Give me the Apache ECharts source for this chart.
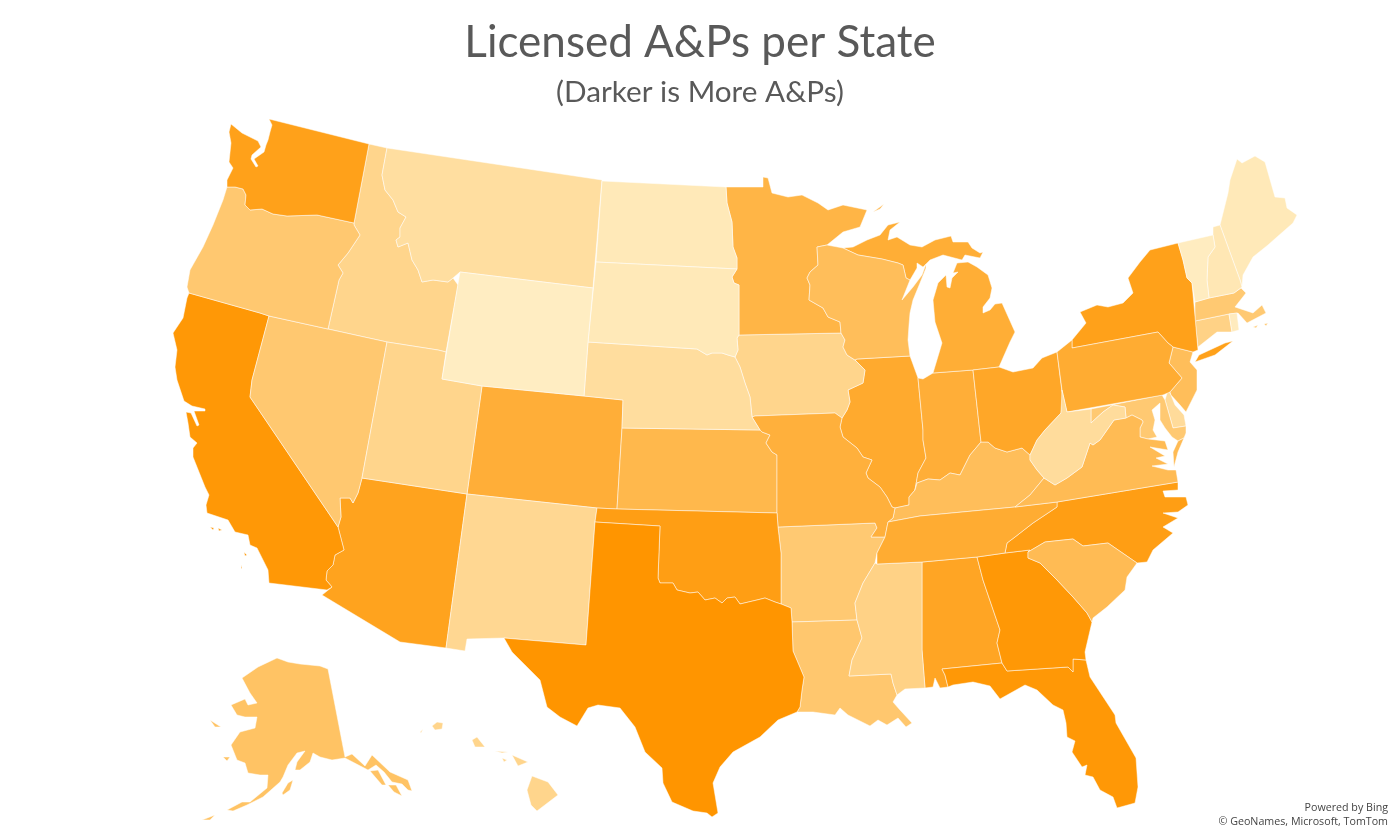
<!DOCTYPE html>
<html lang="en">
<head>
	<title>Licensed A&amp;Ps per State</title>
	<meta charset="utf-8">
	<style>
		html, body { margin: 0; padding: 0; background: #fff; }
		#container { width: 1400px; height: 840px; }
	</style>
</head>
<body>
	<div id="container"></div>
	<script src="https://cdn.jsdelivr.net/npm/echarts@6/dist/echarts.min.js"></script>
	<script>
		// values read from the shade of each state (estimates)
		const states = ['Alabama','Alaska','Arizona','Arkansas','California','Colorado','Connecticut','Delaware','Florida','Georgia','Hawaii','Idaho','Illinois','Indiana','Iowa','Kansas','Kentucky','Louisiana','Maine','Maryland','Massachusetts','Michigan','Minnesota','Mississippi','Missouri','Montana','Nebraska','Nevada','New Hampshire','New Jersey','New Mexico','New York','North Carolina','North Dakota','Ohio','Oklahoma','Oregon','Pennsylvania','Rhode Island','South Carolina','South Dakota','Tennessee','Texas','Utah','Vermont','Virginia','Washington','West Virginia','Wisconsin','Wyoming'];
		const licensed = [820,500,850,430,970,720,330,230,970,970,300,300,770,720,300,620,550,450,80,430,430,730,650,330,700,200,210,440,100,550,270,870,900,80,800,900,440,750,50,580,80,750,1000,300,40,580,870,220,550,30];

		// state outlines in map units, "x,y x,y ..." one string per ring
		const outlines = {
			'Washington': ['269,119 369,144 354,223 317,215 287,216 273,214 262,209 250,210 245,205 246,195 243,189 235,187 227,187 227,180 233,168 229,162 231,143 229,132 231,124 242,133 258,141 261,147 252,155 251,159 256,167 258,166 254,159 264,152 266,145 268,140 270,132 272,125'],
			'Oregon': ['227,187 235,187 243,189 246,195 245,205 250,210 262,209 273,214 287,216 317,215 354,223 354,225 360,235 348,253 338,265 343,273 339,280 328,329 269,316 260,313 189,293 187,287 190,270 203,247 213,225 223,200'],
			'California': ['189,293 260,313 269,316 252,380 250,397 338,527 344,550 335,555 333,565 327,571 326,580 332,587 327,590 269,583 268,570 257,548 250,545 248,535 235,532 228,520 207,513 206,505 209,495 205,487 193,457 193,448 197,443 190,437 188,423 186,412 191,413 197,426 199,425 194,411 205,411 205,409 192,406 184,401 177,380 175,367 177,350 173,333 183,318 187,298', '210,527 214,528 213,530', '218,528 222,530 219,531', '244,552 247,555 245,556', '241,565 242,568 241,569'],
			'Idaho': ['369,144 387,148 382,175 385,190 393,200 398,212 406,217 400,228 400,237 396,240 398,247 408,243 412,260 418,270 422,282 433,280 448,282 453,278 458,285 446,352 438,350 387,342 328,329 339,280 343,273 338,265 348,253 360,235 354,225 354,223'],
			'Montana': ['387,148 602,180 593,288 460,272 453,278 448,282 433,280 422,282 418,270 412,260 408,243 398,247 396,240 400,237 400,228 406,217 398,212 393,200 385,190 382,175'],
			'Wyoming': ['460,272 593,288 588,342 584,396 482,386 442,379'],
			'Nevada': ['269,316 328,329 387,342 362,478 358,493 353,503 350,498 340,498 341,517 338,527 250,397 252,380'],
			'Utah': ['387,342 438,350 446,352 442,379 482,386 467,494 362,478'],
			'Colorado': ['482,386 584,396 623,400 622,428 617,509 597,508 467,494'],
			'New Mexico': ['467,494 597,508 595,522 586,645 504,638 467,639 465,651 446,648'],
			'Arizona': ['362,478 467,494 446,648 400,642 322,595 332,587 326,580 327,571 333,565 335,555 344,550 338,527 341,517 340,498 350,498 353,503 358,493'],
			'North Dakota': ['602,181 726,187 727,203 732,222 733,247 737,258 737,269 596,262'],
			'South Dakota': ['596,262 737,269 732,277 734,283 739,285 739,335 737,338 738,350 735,357 728,355 722,353 712,353 707,355 697,349 588,342'],
			'Nebraska': ['588,342 697,349 707,355 712,353 722,353 728,355 735,357 740,367 745,383 750,397 752,417 760,430 622,428 623,400 584,396'],
			'Kansas': ['622,428 760,430 762,432 770,435 766,443 772,452 777,455 777,513 617,509'],
			'Oklahoma': ['597,508 617,509 777,513 778,527 781,553 781,604 775,602 765,598 757,600 740,604 735,597 727,598 722,603 715,598 705,600 698,592 690,593 677,590 673,583 660,583 658,578 660,526 595,522'],
			'Texas': ['595,522 660,526 658,578 660,583 673,583 677,590 690,593 698,592 705,600 715,598 722,603 727,598 735,597 740,604 757,600 765,598 775,602 781,604 791,608 792,622 793,651 804,677 802,690 800,707 797,712 778,720 760,737 733,752 720,767 713,783 718,813 712,817 707,813 693,811 672,802 663,783 662,768 645,752 635,727 620,708 598,705 588,708 577,726 560,717 547,707 540,680 525,665 512,652 504,638 586,645'],
			'Minnesota': ['726,187 763,187 763,177 768,178 772,193 788,197 802,195 818,203 828,210 843,205 867,210 860,227 843,232 827,245 817,247 818,265 810,272 807,278 810,285 809,300 823,308 828,317 840,322 841,333 739,335 739,285 734,283 732,277 737,269 737,258 733,247 732,222 727,203', '873,212 884,204 880,209'],
			'Iowa': ['739,335 841,333 845,340 843,347 847,355 855,360 865,370 863,383 848,390 850,402 847,410 842,418 835,413 755,416 752,417 750,397 745,383 740,367 735,357 738,350 737,338'],
			'Missouri': ['752,417 755,416 835,413 842,418 840,427 843,437 857,448 863,457 872,460 866,473 868,478 880,487 887,497 892,507 895,508 893,518 888,522 885,537 871,537 877,528 875,523 778,527 777,513 777,455 772,452 766,443 770,435 762,432 760,430'],
			'Arkansas': ['778,527 875,523 877,528 871,537 885,537 877,553 875,563 863,583 855,603 857,620 792,622 791,608 781,604 781,553'],
			'Louisiana': ['792,622 857,620 862,638 852,660 849,676 891,674 893,683 897,695 893,702 900,710 912,723 906,727 898,718 887,725 878,720 870,726 862,722 848,715 840,708 835,715 813,712 797,712 800,707 802,690 804,677 793,651'],
			'Wisconsin': ['817,247 827,245 843,248 858,255 882,259 898,263 903,265 906,278 910,280 902,300 903,301 913,287 922,275 926,264 926,268 920,283 913,300 910,313 909,325 908,340 910,356 857,359 855,360 847,355 843,347 845,340 841,333 840,322 828,317 823,308 809,300 810,285 807,278 810,272 818,265'],
			'Illinois': ['857,359 910,356 918,378 923,430 923,440 926,458 918,473 915,490 909,497 909,505 895,508 892,507 887,497 880,487 868,478 866,473 872,460 863,457 857,448 843,437 840,427 842,418 847,410 850,402 848,390 863,383 865,370 855,360'],
			'Indiana': ['918,378 923,379 933,373 973,370 981,442 970,455 960,475 950,473 940,480 928,479 917,483 915,490 918,473 926,458 923,440 923,430'],
			'Michigan': ['933,373 973,370 999,367 1010,342 1015,332 1002,303 995,304 990,310 983,313 983,307 990,298 992,288 988,275 977,267 968,262 957,263 953,273 958,272 952,278 950,288 947,287 946,275 938,283 933,300 935,322 942,343', '843,248 853,247 867,240 880,235 888,225 900,222 890,230 888,240 897,237 910,245 922,247 935,240 951,236 953,242 968,242 972,248 980,253 983,252 980,258 965,255 962,260 943,255 930,260 923,267 917,263 917,268 910,280 906,278 903,265 898,263 882,259 858,255'],
			'Ohio': ['973,370 999,367 1013,372 1033,368 1042,358 1057,352 1063,400 1061,413 1045,430 1037,440 1030,455 1022,448 1007,452 995,448 988,442 981,442'],
			'Kentucky': ['981,442 988,442 995,448 1007,452 1022,448 1030,455 1030,460 1037,470 1044,478 1030,495 1015,507 920,516 888,522 893,518 895,508 909,505 909,497 915,490 917,483 928,479 940,480 950,473 960,475 970,455'],
			'West Virginia': ['1061,413 1062,390 1067,412 1091,409 1091,423 1103,412 1113,405 1125,407 1126,418 1114,420 1100,440 1093,445 1090,443 1082,467 1067,478 1055,485 1044,478 1037,470 1030,460 1030,455 1037,440 1045,430'],
			'Virginia': ['1044,478 1055,485 1067,478 1082,467 1090,443 1093,445 1100,440 1114,420 1126,418 1132,415 1142,420 1143,422 1140,428 1140,437 1148,439 1165,441 1168,450 1150,447 1165,456 1156,458 1168,464 1152,466 1168,470 1176,470 1178,482 1057,502 1015,507 1030,495', '1184,438 1178,452 1174,467 1173,452 1178,441'],
			'Tennessee': ['888,522 920,516 1015,507 1057,502 1057,507 1048,513 1033,523 1015,537 1007,543 1005,553 977,557 922,562 877,564 877,553 885,537'],
			'North Carolina': ['1178,482 1057,502 1057,507 1048,513 1033,523 1015,537 1007,543 1005,553 1030,550 1028,552 1045,542 1073,539 1083,546 1108,543 1137,563 1147,562 1153,550 1173,533 1163,527 1178,518 1163,513 1178,512 1188,505 1186,497 1165,497 1163,491 1178,490'],
			'South Carolina': ['1028,552 1045,542 1073,539 1083,546 1108,543 1137,563 1127,577 1125,590 1107,607 1093,618 1092,622 1087,613 1073,597 1057,580 1040,563 1028,558'],
			'Georgia': ['977,557 1005,553 1030,550 1028,552 1028,558 1040,563 1057,580 1073,597 1087,613 1092,622 1085,652 1086,660 1073,659 1073,672 1068,667 1007,671 1002,663 997,643 1000,630 983,580'],
			'Alabama': ['922,562 977,557 983,580 1000,630 997,643 1002,663 942,669 945,675 948,687 940,688 935,678 933,687 925,688 922,650'],
			'Mississippi': ['877,564 922,562 922,650 925,688 905,689 897,695 893,683 891,674 849,676 852,660 862,638 857,620 855,603 863,583 875,563'],
			'Florida': ['942,669 1002,663 1007,671 1068,667 1073,672 1073,659 1086,660 1090,677 1115,715 1116,723 1136,758 1138,787 1135,803 1117,808 1113,797 1100,790 1093,777 1085,775 1087,765 1082,767 1072,752 1075,741 1067,737 1066,723 1063,710 1053,705 1037,690 1025,685 1000,699 990,686 973,682 953,685 948,687 945,675'],
			'Pennsylvania': ['1057,352 1072,340 1072,348 1158,332 1168,343 1173,347 1169,363 1182,378 1170,392 1163,395 1067,412 1062,390'],
			'New York': ['1072,348 1158,332 1168,343 1173,347 1193,352 1198,350 1192,283 1187,278 1183,260 1178,243 1150,250 1140,262 1128,278 1133,293 1123,303 1108,307 1097,305 1080,312 1086,323 1072,340', '1195,362 1199,355 1225,343 1233,341 1215,355'],
			'New Jersey': ['1173,347 1193,352 1190,362 1197,370 1197,390 1186,412 1180,405 1171,395 1170,392 1182,378 1169,363'],
			'Delaware': ['1168,390 1165,400 1173,428 1186,426 1184,415 1175,405 1171,395'],
			'Maryland': ['1091,409 1162,395 1165,400 1173,428 1186,426 1186,433 1184,438 1178,441 1172,437 1165,428 1160,420 1160,403 1152,410 1155,420 1153,430 1157,437 1148,439 1140,437 1140,428 1143,422 1142,420 1132,415 1126,418 1125,407 1113,405 1103,412 1091,423'],
			'Connecticut': ['1195,321 1229,314 1232,332 1217,332 1198,347'],
			'Rhode Island': ['1229,314 1237,313 1239,330 1232,332'],
			'Massachusetts': ['1195,302 1209,298 1234,293 1241,288 1246,293 1235,307 1253,313 1262,305 1266,313 1247,323 1238,313 1229,314 1195,321', '1253,327 1258,325 1256,328', '1264,324 1268,323 1266,326'],
			'Vermont': ['1178,243 1213,235 1215,247 1208,257 1207,280 1209,298 1195,302 1192,283 1187,278 1183,260'],
			'New Hampshire': ['1213,235 1213,227 1220,225 1240,280 1242,287 1234,293 1209,298 1207,280 1208,257 1215,247'],
			'Maine': ['1220,225 1228,193 1230,180 1237,159 1242,163 1255,156 1265,162 1275,197 1285,198 1287,208 1297,215 1293,223 1277,237 1268,245 1253,257 1243,275 1242,287 1240,280'],
			'Alaska': ['328,669 345,757 352,754 365,766 372,755 390,772 408,780 412,791 408,790 402,784 392,782 384,772 376,765 368,770 345,758 332,760 320,757 313,753 310,762 300,770 295,770 297,762 305,751 297,753 288,765 283,777 280,782 263,797 247,805 233,811 227,810 242,802 250,802 267,788 268,775 260,775 248,773 245,763 237,760 231,745 240,732 255,728 257,717 245,717 237,715 231,705 245,699 248,705 257,703 250,693 242,678 258,667 277,658 288,662 300,664 320,666', '370,771 378,770 386,785 382,785', '388,785 396,785 402,796 394,792', '282,793 288,783 293,780 290,790 283,795', '210,720 221,727 215,727', '223,757 230,757 227,761', '202,820 215,815 210,820'],
			'Hawaii': ['432,726 437,722 443,723 442,729 435,730', '472,740 477,737 485,747 475,747', '495,751 508,752 502,753', '512,755 528,762 518,766', '502,758 507,760 504,762', '532,776 548,782 558,795 537,811 531,805 527,790', '420,732 423,729 421,733']
		};

		const features = states.map(function (name) {
			return {
				type: 'Feature',
				properties: { name: name },
				geometry: {
					type: 'MultiPolygon',
					coordinates: outlines[name].map(function (ring) {
						return [ring.split(' ').map(function (p) { return p.split(',').map(Number); })];
					})
				}
			};
		});
		echarts.registerMap('usa', { type: 'FeatureCollection', features: features });

		let myChart = echarts.init(document.getElementById('container'), null, { renderer: 'canvas' });
		let option = {
			animation: false,
			title: [
				{ text: 'Licensed A&Ps per State', left: 'center', top: 16, textStyle: { fontFamily: 'Lato', fontSize: 44, fontWeight: 'normal', color: '#595959' } },
				{ text: '(Darker is More A&Ps)', left: 'center', top: 72, textStyle: { fontFamily: 'Lato', fontSize: 29.7, fontWeight: 'normal', color: '#595959' } },
				{ text: 'Powered by Bing', right: 7, top: 797, textStyle: { fontFamily: 'Open Sans', fontSize: 10.7, fontWeight: 'normal', color: '#444' } },
				{ text: '© GeoNames, Microsoft, TomTom', right: 7, top: 811, textStyle: { fontFamily: 'Open Sans', fontSize: 10.7, fontWeight: 'normal', color: '#444' } }
			],
			visualMap: { show: false, min: 0, max: 1000, inRange: { color: ['#FFF0C8', '#FF9500'] } },
			series: [{
				type: 'map',
				map: 'usa',
				projection: {
					project: function (p) { return [p[0], p[1]]; },
					unproject: function (p) { return [p[0], p[1]]; }
				},
				boundingCoords: [[200, 119], [1300, 821]],
				left: 200, top: 119, width: 1100, height: 702,
				roam: false,
				silent: true,
				selectedMode: false,
				label: { show: false },
				itemStyle: { borderColor: '#fff', borderWidth: 0.5 },
				data: states.map(function (s, i) { return { name: s, value: licensed[i] }; })
			}]
		};
		myChart.setOption(option);
	</script>
</body>
</html>
